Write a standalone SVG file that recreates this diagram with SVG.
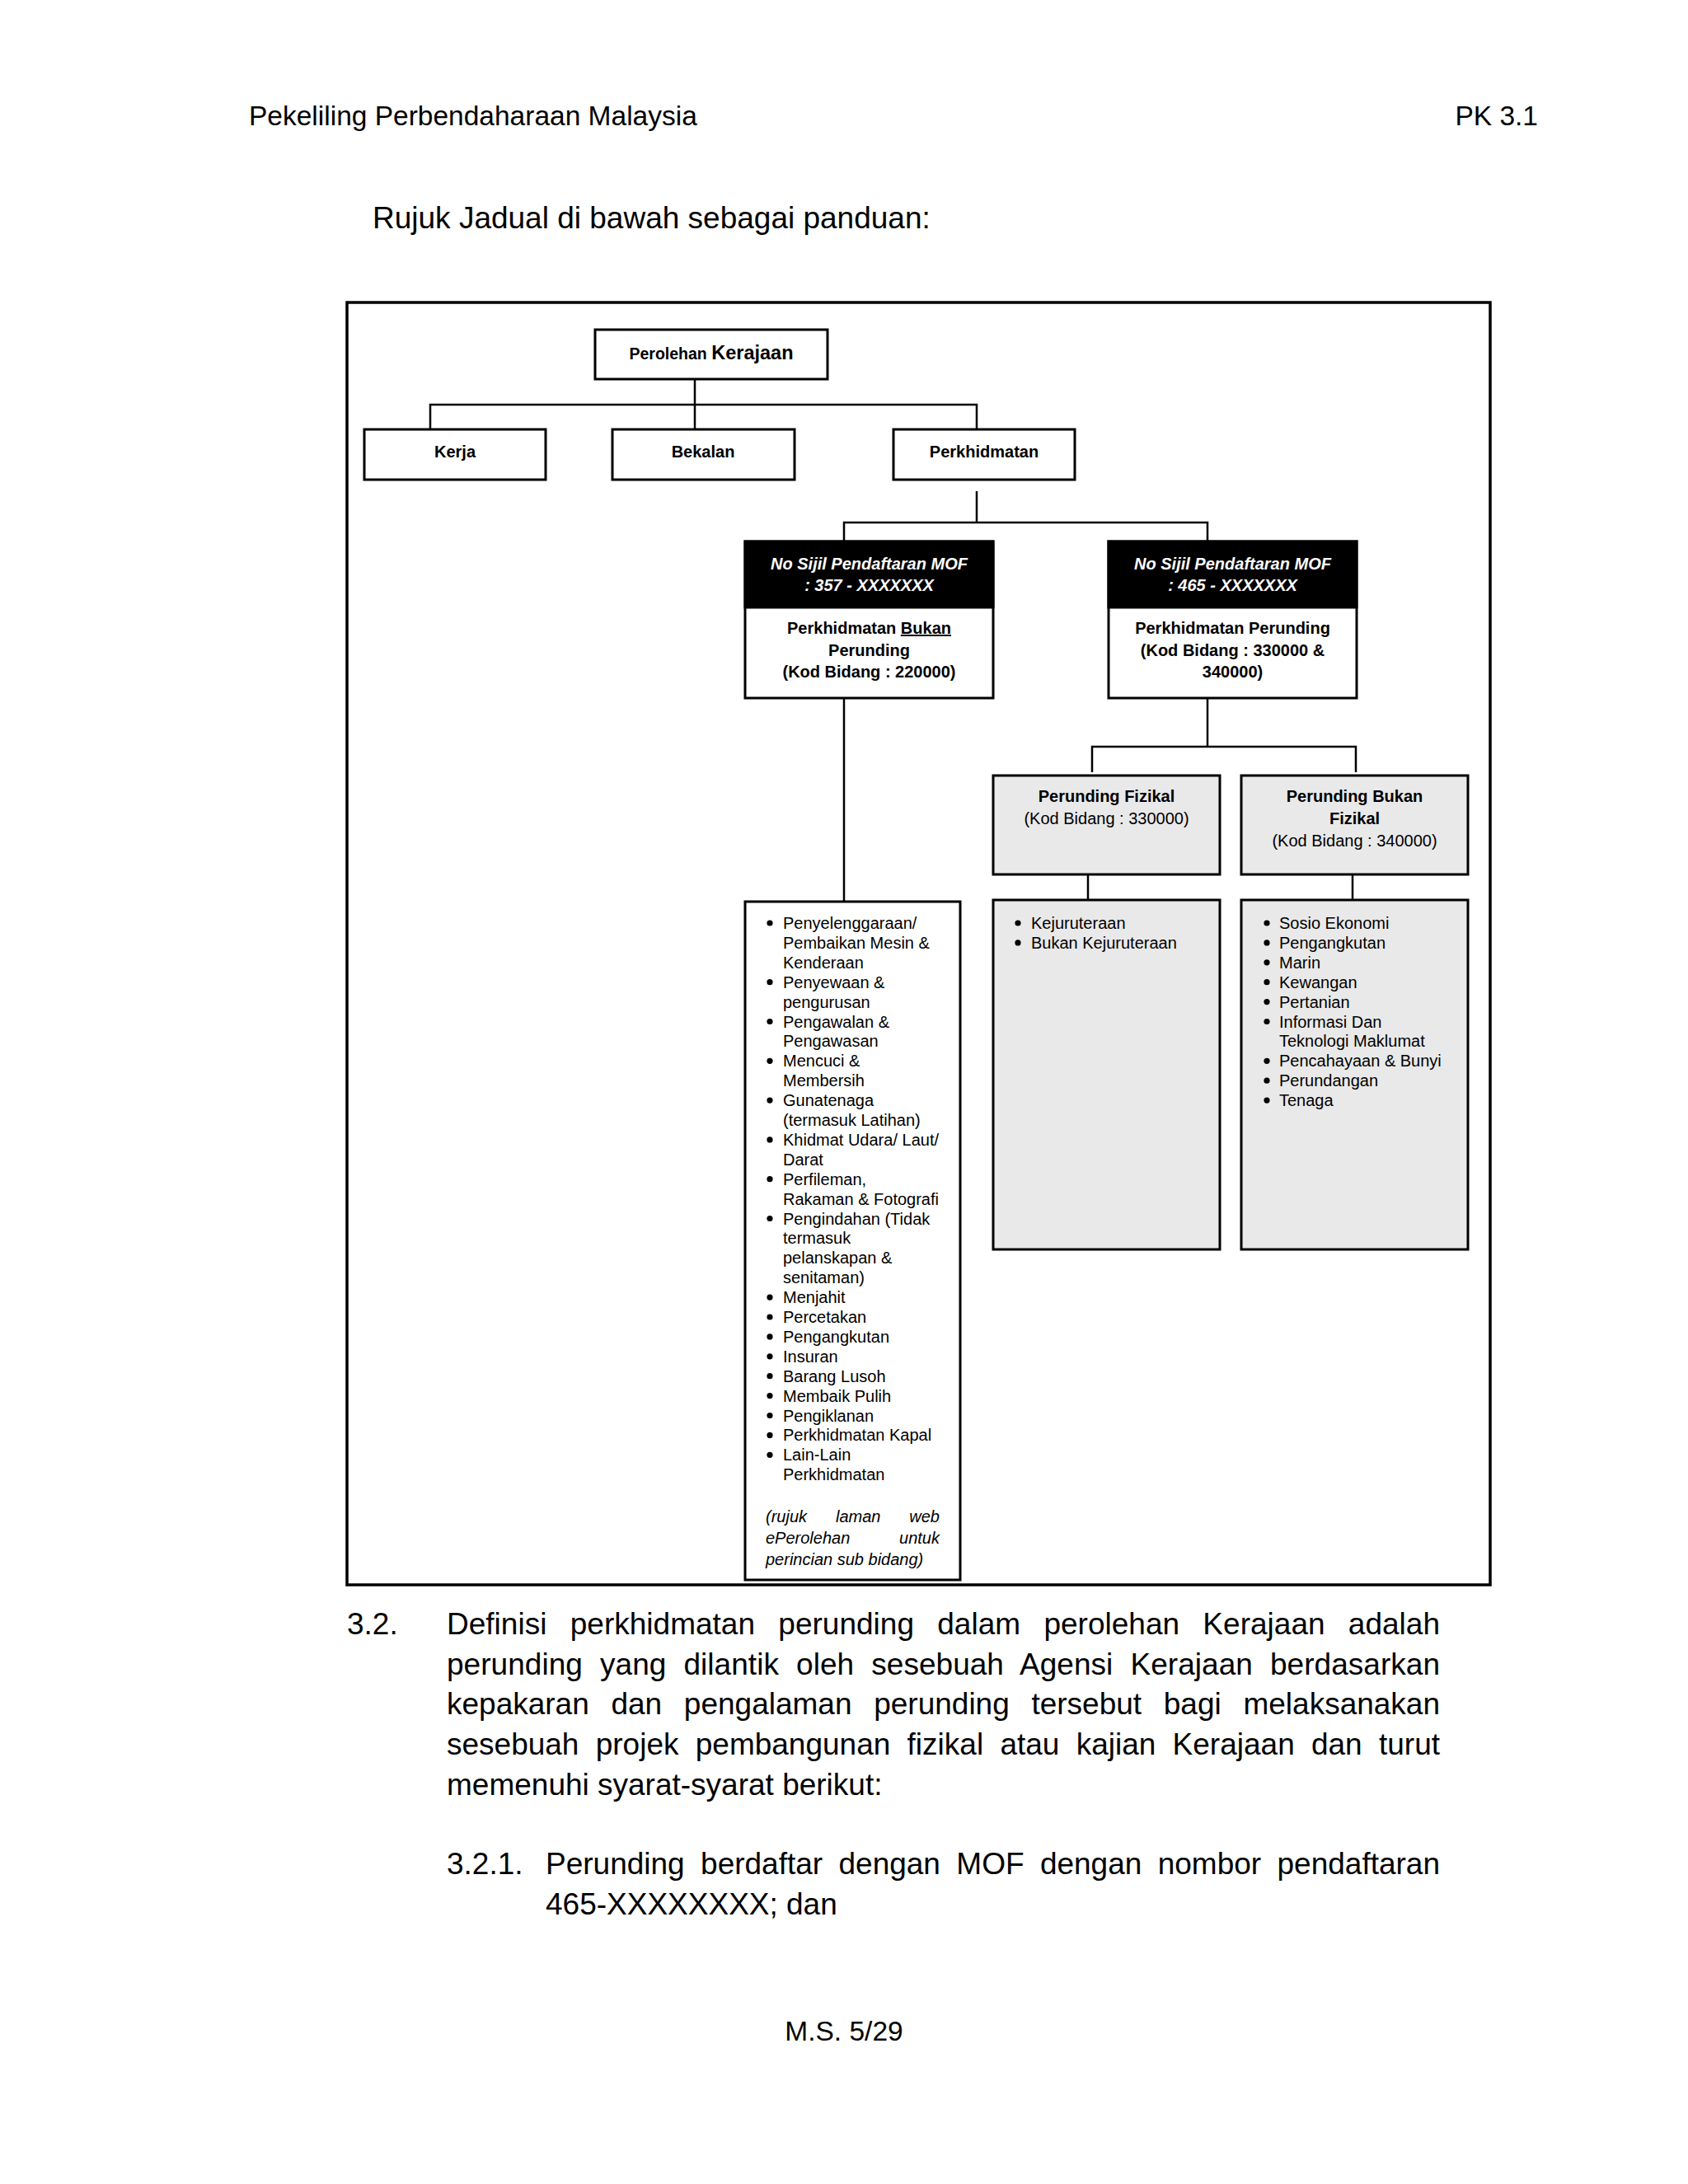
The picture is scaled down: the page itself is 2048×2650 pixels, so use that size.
<svg xmlns="http://www.w3.org/2000/svg" width="2048" height="2650" viewBox="0 0 2048 2650">
<style>
text{font-family:"Liberation Sans",Arial,sans-serif;fill:#000}
.hdr{font-size:33.5px}
.body{font-size:37px}
.box{fill:#fff;stroke:#000;stroke-width:3}
.gbox{fill:#e9e9e9;stroke:#000;stroke-width:3}
.blk{fill:#000;stroke:#000;stroke-width:3}
.lbl{font-size:20px;font-weight:bold;text-anchor:middle}
.lblr{font-size:20px;text-anchor:middle}
.wt{font-size:20px;font-weight:bold;font-style:italic;text-anchor:middle;fill:#fff}
.li{font-size:20px}
.it{font-size:20px;font-style:italic}
.con{fill:none;stroke:#000;stroke-width:2.5}
.bul{fill:#000}
</style>
<rect width="2048" height="2650" fill="#fff"/>

<g id="page-text">
<text class="hdr" x="302" y="152">Pekeliling Perbendaharaan Malaysia</text>
<text class="hdr" x="1866" y="152" text-anchor="end">PK 3.1</text>
<text class="body" x="452" y="277">Rujuk Jadual di bawah sebagai panduan:</text>
</g>

<rect id="frame" x="421" y="367" width="1387" height="1556" fill="none" stroke="#000" stroke-width="3.5"/>

<g id="connectors">
<polyline class="con" points="843,460 843,521"/>
<polyline class="con" points="522,521 522,491 1185,491 1185,521"/>
<polyline class="con" points="1185,596 1185,634"/>
<polyline class="con" points="1024,657 1024,634 1465,634 1465,657"/>
<polyline class="con" points="1024,847 1024,1094"/>
<polyline class="con" points="1465,847 1465,906"/>
<polyline class="con" points="1325,937 1325,906 1645,906 1645,937"/>
<polyline class="con" points="1320,1061 1320,1092"/>
<polyline class="con" points="1641,1061 1641,1092"/>
</g>

<g id="n-perolehan">
<rect class="box" x="722" y="400" width="282" height="60"/>
<text class="lbl" x="863" y="436"><tspan font-size="19.5px">Perolehan </tspan><tspan font-size="23.5px">Kerajaan</tspan></text>
</g>
<g id="n-kerja">
<rect class="box" x="442" y="521" width="220" height="61"/>
<text class="lbl" x="552" y="555">Kerja</text>
</g>
<g id="n-bekalan">
<rect class="box" x="743" y="521" width="221" height="61"/>
<text class="lbl" x="853" y="555">Bekalan</text>
</g>
<g id="n-perkhidmatan">
<rect class="box" x="1084" y="521" width="220" height="61"/>
<text class="lbl" x="1194" y="555">Perkhidmatan</text>
</g>

<g id="n-bukan-perunding">
<rect class="box" x="904" y="657" width="301" height="190"/>
<rect class="blk" x="904" y="657" width="301" height="80"/>
<text class="wt" x="1054.5" y="691">No Sijil Pendaftaran MOF</text>
<text class="wt" x="1054.5" y="717">: 357 - XXXXXXX</text>
<text class="lbl" x="1054.5" y="769">Perkhidmatan <tspan text-decoration="underline">Bukan</tspan></text>
<text class="lbl" x="1054.5" y="796">Perunding</text>
<text class="lbl" x="1054.5" y="822">(Kod Bidang : 220000)</text>
</g>

<g id="n-perunding">
<rect class="box" x="1345" y="657" width="301" height="190"/>
<rect class="blk" x="1345" y="657" width="301" height="80"/>
<text class="wt" x="1495.5" y="691">No Sijil Pendaftaran MOF</text>
<text class="wt" x="1495.5" y="717">: 465 - XXXXXXX</text>
<text class="lbl" x="1495.5" y="769">Perkhidmatan Perunding</text>
<text class="lbl" x="1495.5" y="796">(Kod Bidang : 330000 &amp;</text>
<text class="lbl" x="1495.5" y="822">340000)</text>
</g>

<g id="n-fizikal">
<rect class="gbox" x="1205" y="941" width="275" height="120"/>
<text class="lbl" x="1342.5" y="973">Perunding Fizikal</text>
<text class="lblr" x="1342.5" y="1000">(Kod Bidang : 330000)</text>
</g>

<g id="n-bukan-fizikal">
<rect class="gbox" x="1506" y="941" width="275" height="120"/>
<text class="lbl" x="1643.5" y="973">Perunding Bukan</text>
<text class="lbl" x="1643.5" y="1000">Fizikal</text>
<text class="lblr" x="1643.5" y="1027">(Kod Bidang : 340000)</text>
</g>

<g id="n-list-bukan-perunding">
<rect class="box" x="904" y="1094" width="261" height="823"/>
<text class="li" x="950" y="1127">
<tspan x="950">Penyelenggaraan/</tspan>
<tspan x="950" dy="23.9">Pembaikan Mesin &amp;</tspan>
<tspan x="950" dy="23.9">Kenderaan</tspan>
<tspan x="950" dy="23.9">Penyewaan &amp;</tspan>
<tspan x="950" dy="23.9">pengurusan</tspan>
<tspan x="950" dy="23.9">Pengawalan &amp;</tspan>
<tspan x="950" dy="23.9">Pengawasan</tspan>
<tspan x="950" dy="23.9">Mencuci &amp;</tspan>
<tspan x="950" dy="23.9">Membersih</tspan>
<tspan x="950" dy="23.9">Gunatenaga</tspan>
<tspan x="950" dy="23.9">(termasuk Latihan)</tspan>
<tspan x="950" dy="23.9">Khidmat Udara/ Laut/</tspan>
<tspan x="950" dy="23.9">Darat</tspan>
<tspan x="950" dy="23.9">Perfileman,</tspan>
<tspan x="950" dy="23.9">Rakaman &amp; Fotografi</tspan>
<tspan x="950" dy="23.9">Pengindahan (Tidak</tspan>
<tspan x="950" dy="23.9">termasuk</tspan>
<tspan x="950" dy="23.9">pelanskapan &amp;</tspan>
<tspan x="950" dy="23.9">senitaman)</tspan>
<tspan x="950" dy="23.9">Menjahit</tspan>
<tspan x="950" dy="23.9">Percetakan</tspan>
<tspan x="950" dy="23.9">Pengangkutan</tspan>
<tspan x="950" dy="23.9">Insuran</tspan>
<tspan x="950" dy="23.9">Barang Lusoh</tspan>
<tspan x="950" dy="23.9">Membaik Pulih</tspan>
<tspan x="950" dy="23.9">Pengiklanan</tspan>
<tspan x="950" dy="23.9">Perkhidmatan Kapal</tspan>
<tspan x="950" dy="23.9">Lain-Lain</tspan>
<tspan x="950" dy="23.9">Perkhidmatan</tspan>
</text>
<g class="bul">
<circle cx="934" cy="1120" r="3.6"/>
<circle cx="934" cy="1191.7" r="3.6"/>
<circle cx="934" cy="1239.5" r="3.6"/>
<circle cx="934" cy="1287.3" r="3.6"/>
<circle cx="934" cy="1335.1" r="3.6"/>
<circle cx="934" cy="1382.9" r="3.6"/>
<circle cx="934" cy="1430.7" r="3.6"/>
<circle cx="934" cy="1478.5" r="3.6"/>
<circle cx="934" cy="1574.1" r="3.6"/>
<circle cx="934" cy="1598" r="3.6"/>
<circle cx="934" cy="1621.9" r="3.6"/>
<circle cx="934" cy="1645.8" r="3.6"/>
<circle cx="934" cy="1669.7" r="3.6"/>
<circle cx="934" cy="1693.6" r="3.6"/>
<circle cx="934" cy="1717.5" r="3.6"/>
<circle cx="934" cy="1741.4" r="3.6"/>
<circle cx="934" cy="1765.3" r="3.6"/>
</g>
<text class="it" x="929" y="1847">(rujuk</text>
<text class="it" x="1014" y="1847">laman</text>
<text class="it" x="1140" y="1847" text-anchor="end">web</text>
<text class="it" x="929" y="1873">ePerolehan</text>
<text class="it" x="1140" y="1873" text-anchor="end">untuk</text>
<text class="it" x="929" y="1899">perincian sub bidang)</text>
</g>

<g id="n-list-fizikal">
<rect class="gbox" x="1205" y="1092" width="275" height="424"/>
<text class="li" x="1251" y="1127"><tspan x="1251">Kejuruteraan</tspan><tspan x="1251" dy="23.9">Bukan Kejuruteraan</tspan></text>
<circle class="bul" cx="1235" cy="1120" r="3.6"/>
<circle class="bul" cx="1235" cy="1143.9" r="3.6"/>
</g>

<g id="n-list-bukan-fizikal">
<rect class="gbox" x="1506" y="1092" width="275" height="424"/>
<text class="li" x="1552" y="1127">
<tspan x="1552">Sosio Ekonomi</tspan>
<tspan x="1552" dy="23.9">Pengangkutan</tspan>
<tspan x="1552" dy="23.9">Marin</tspan>
<tspan x="1552" dy="23.9">Kewangan</tspan>
<tspan x="1552" dy="23.9">Pertanian</tspan>
<tspan x="1552" dy="23.9">Informasi Dan</tspan>
<tspan x="1552" dy="23.9">Teknologi Maklumat</tspan>
<tspan x="1552" dy="23.9">Pencahayaan &amp; Bunyi</tspan>
<tspan x="1552" dy="23.9">Perundangan</tspan>
<tspan x="1552" dy="23.9">Tenaga</tspan>
</text>
<g class="bul">
<circle cx="1537" cy="1120" r="3.6"/>
<circle cx="1537" cy="1143.9" r="3.6"/>
<circle cx="1537" cy="1167.8" r="3.6"/>
<circle cx="1537" cy="1191.7" r="3.6"/>
<circle cx="1537" cy="1215.6" r="3.6"/>
<circle cx="1537" cy="1239.5" r="3.6"/>
<circle cx="1537" cy="1287.3" r="3.6"/>
<circle cx="1537" cy="1311.2" r="3.6"/>
<circle cx="1537" cy="1335.1" r="3.6"/>
</g>
</g>

<g id="body-text">
<text class="body" x="421" y="1983">3.2.</text>
<text class="body" x="542" y="1983" word-spacing="18" textLength="1205" lengthAdjust="spacing">Definisi perkhidmatan perunding dalam perolehan Kerajaan adalah</text>
<text class="body" x="542" y="2032" word-spacing="10.8" textLength="1205" lengthAdjust="spacing">perunding yang dilantik oleh sesebuah Agensi Kerajaan berdasarkan</text>
<text class="body" x="542" y="2080" word-spacing="16.4" textLength="1205" lengthAdjust="spacing">kepakaran dan pengalaman perunding tersebut bagi melaksanakan</text>
<text class="body" x="542" y="2129" word-spacing="10" textLength="1205" lengthAdjust="spacing">sesebuah projek pembangunan fizikal atau kajian Kerajaan dan turut</text>
<text class="body" x="542" y="2178">memenuhi syarat-syarat berikut:</text>
<text class="body" x="542" y="2274">3.2.1.</text>
<text class="body" x="662" y="2274" word-spacing="9.1" textLength="1085" lengthAdjust="spacing">Perunding berdaftar dengan MOF dengan nombor pendaftaran</text>
<text class="body" x="662" y="2323">465-XXXXXXXX; dan</text>
<text class="hdr" x="1024" y="2476" text-anchor="middle">M.S. 5/29</text>
</g>
</svg>
